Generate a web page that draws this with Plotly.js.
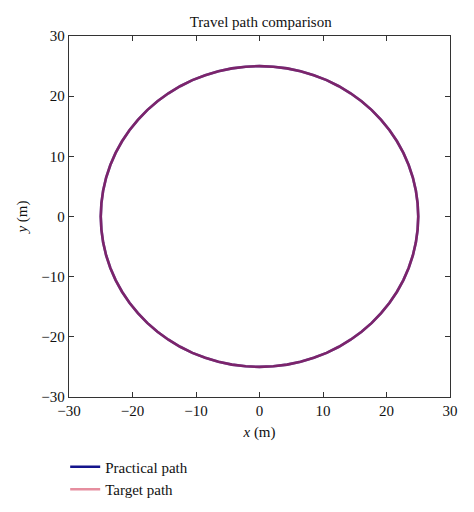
<!DOCTYPE html>
<html>
<head>
<meta charset="utf-8">
<script src="https://cdn.plot.ly/plotly-3.0.1.min.js"></script>
<style>html,body{margin:0;padding:0;background:#fff;}#chart{width:474px;height:512px;}</style>
</head>
<body>
<div id="chart"></div>
<script>
// Points read along the path (m), every ~5 degrees
var practicalX = [25.00, 24.90, 24.62, 24.15, 23.49, 22.66, 21.65, 20.48, 19.15, 17.68, 16.07, 14.34, 12.50, 10.57, 8.55, 6.47, 4.34, 2.18, 0.00, -2.18, -4.34, -6.47, -8.55, -10.57, -12.50, -14.34, -16.07, -17.68, -19.15, -20.48, -21.65, -22.66, -23.49, -24.15, -24.62, -24.90, -25.00, -24.90, -24.62, -24.15, -23.49, -22.66, -21.65, -20.48, -19.15, -17.68, -16.07, -14.34, -12.50, -10.57, -8.55, -6.47, -4.34, -2.18, 0.00, 2.18, 4.34, 6.47, 8.55, 10.57, 12.50, 14.34, 16.07, 17.68, 19.15, 20.48, 21.65, 22.66, 23.49, 24.15, 24.62, 24.90, 25.00];
var practicalY = [0.00, 2.18, 4.34, 6.47, 8.55, 10.57, 12.50, 14.34, 16.07, 17.68, 19.15, 20.48, 21.65, 22.66, 23.49, 24.15, 24.62, 24.90, 25.00, 24.90, 24.62, 24.15, 23.49, 22.66, 21.65, 20.48, 19.15, 17.68, 16.07, 14.34, 12.50, 10.57, 8.55, 6.47, 4.34, 2.18, 0.00, -2.18, -4.34, -6.47, -8.55, -10.57, -12.50, -14.34, -16.07, -17.68, -19.15, -20.48, -21.65, -22.66, -23.49, -24.15, -24.62, -24.90, -25.00, -24.90, -24.62, -24.15, -23.49, -22.66, -21.65, -20.48, -19.15, -17.68, -16.07, -14.34, -12.50, -10.57, -8.55, -6.47, -4.34, -2.18, 0.00];
var targetX = [25.00, 24.90, 24.62, 24.15, 23.49, 22.66, 21.65, 20.48, 19.15, 17.68, 16.07, 14.34, 12.50, 10.57, 8.55, 6.47, 4.34, 2.18, 0.00, -2.18, -4.34, -6.47, -8.55, -10.57, -12.50, -14.34, -16.07, -17.68, -19.15, -20.48, -21.65, -22.66, -23.49, -24.15, -24.62, -24.90, -25.00, -24.90, -24.62, -24.15, -23.49, -22.66, -21.65, -20.48, -19.15, -17.68, -16.07, -14.34, -12.50, -10.57, -8.55, -6.47, -4.34, -2.18, 0.00, 2.18, 4.34, 6.47, 8.55, 10.57, 12.50, 14.34, 16.07, 17.68, 19.15, 20.48, 21.65, 22.66, 23.49, 24.15, 24.62, 24.90, 25.00];
var targetY = [0.00, 2.18, 4.34, 6.47, 8.55, 10.57, 12.50, 14.34, 16.07, 17.68, 19.15, 20.48, 21.65, 22.66, 23.49, 24.15, 24.62, 24.90, 25.00, 24.90, 24.62, 24.15, 23.49, 22.66, 21.65, 20.48, 19.15, 17.68, 16.07, 14.34, 12.50, 10.57, 8.55, 6.47, 4.34, 2.18, 0.00, -2.18, -4.34, -6.47, -8.55, -10.57, -12.50, -14.34, -16.07, -17.68, -19.15, -20.48, -21.65, -22.66, -23.49, -24.15, -24.62, -24.90, -25.00, -24.90, -24.62, -24.15, -23.49, -22.66, -21.65, -20.48, -19.15, -17.68, -16.07, -14.34, -12.50, -10.57, -8.55, -6.47, -4.34, -2.18, 0.00];
var tickVals = [-30, -20, -10, 0, 10, 20, 30];
var tickText = ['\u221230', '\u221220', '\u221210', '0', '10', '20', '30'];

var font = {family: '"Liberation Serif", "DejaVu Serif", serif', size: 15, color: '#111'};

var traces = [
  {x: practicalX, y: practicalY, mode: 'lines', name: 'Practical path',
   line: {color: '#14148c', width: 2.6}},
  {x: targetX, y: targetY, mode: 'lines', name: 'Target path',
   line: {color: 'rgba(210,50,80,0.55)', width: 2.6}}
];

var axisCommon = {
  range: [-30, 30], tickmode: 'array', tickvals: tickVals, ticktext: tickText,
  ticks: 'inside', ticklen: 5, tickcolor: '#333', mirror: 'ticks',
  showline: true, linecolor: '#333', linewidth: 1.2,
  showgrid: false, zeroline: false, tickfont: font
};

var layout = {
  width: 474, height: 512,
  margin: {l: 69, r: 24, t: 36, b: 115},
  paper_bgcolor: '#fff', plot_bgcolor: '#fff',
  font: font,
  title: {text: 'Travel path comparison', font: font, x: 0.55, xanchor: 'center', y: 0.957, yanchor: 'middle'},
  xaxis: Object.assign({}, axisCommon, {title: {text: '<i>x</i> (m)', font: font, standoff: 8}}),
  yaxis: Object.assign({}, axisCommon, {title: {text: '<i>y</i> (m)', font: font, standoff: 10}}),
  showlegend: true,
  legend: {x: -0.01, xanchor: 'left', yref: 'container', y: 0.12, yanchor: 'top', orientation: 'v',
           font: font, bgcolor: 'rgba(0,0,0,0)', tracegroupgap: 0, itemwidth: 30}
};

Plotly.newPlot('chart', traces, layout, {displayModeBar: false, staticPlot: true});
</script>
</body>
</html>
